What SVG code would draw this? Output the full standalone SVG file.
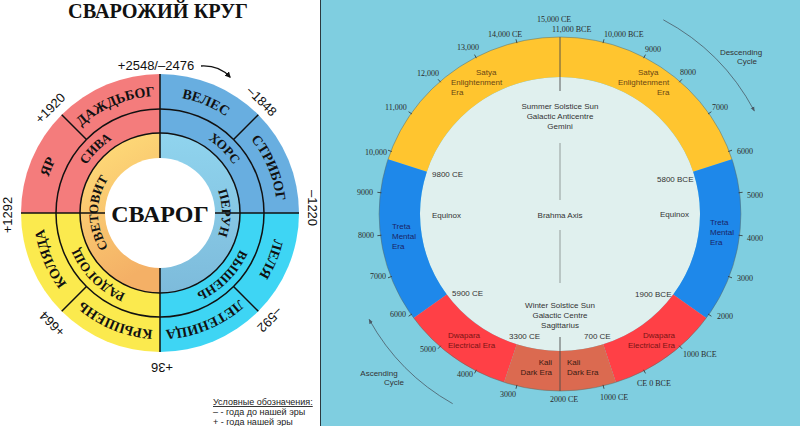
<svg xmlns="http://www.w3.org/2000/svg" width="800" height="426" viewBox="0 0 800 426">
<style>
.god{font-family:"Liberation Serif","DejaVu Serif",serif;font-weight:bold;fill:#111}
.num{font-family:"Liberation Sans",Arial,sans-serif;font-size:13px;fill:#111}
.leg{font-family:"Liberation Sans",Arial,sans-serif;font-size:9px;fill:#222}
.sl{font-family:"Liberation Serif","Times New Roman",serif;font-size:8px;fill:#2a2a2a}
.ss{font-family:"Liberation Sans",Arial,sans-serif;font-size:8px;fill:#333}
.line{stroke:#111;stroke-width:1.5;fill:none}
.tick{stroke:#333;stroke-width:0.8}
</style>
<defs>
<linearGradient id="gOr" x1="0" y1="0" x2="0.3" y2="1">
<stop offset="0" stop-color="#FFE07A"/><stop offset="1" stop-color="#F4B066"/>
</linearGradient>
<linearGradient id="gBl" x1="0" y1="0" x2="0" y2="1">
<stop offset="0" stop-color="#90D4EE"/><stop offset="1" stop-color="#7DBBDB"/>
</linearGradient>
<marker id="ah" viewBox="0 0 10 10" refX="8" refY="5" markerWidth="6" markerHeight="6" orient="auto" markerUnits="userSpaceOnUse">
<path d="M0,0 L10,5 L0,10 Z" fill="#111"/>
</marker>
<marker id="ah2" viewBox="0 0 10 10" refX="8" refY="5" markerWidth="5" markerHeight="5" orient="auto" markerUnits="userSpaceOnUse">
<path d="M0,1 L10,5 L0,9 Z" fill="#4a5a66"/>
</marker>
<path id="pVeles" d="M88.77,120.17 A117,117 0 0 1 276,197.73"/>
<path id="pStribog" d="M175.27,97 A117,117 0 0 1 252.83,284.23"/>
<path id="pLelya" d="M252.83,141.77 A117,117 0 0 1 175.27,329"/>
<path id="pLet" d="M276,228.27 A117,117 0 0 1 88.77,305.83"/>
<path id="pKrysh" d="M231.23,305.83 A117,117 0 0 1 44,228.27"/>
<path id="pKol" d="M144.73,329 A117,117 0 0 1 67.17,141.77"/>
<path id="pYar" d="M67.17,284.23 A117,117 0 0 1 144.73,97"/>
<path id="pDazh" d="M44,197.73 A117,117 0 0 1 231.23,120.17"/>
<path id="pHors" d="M137.23,128 A88,88 0 0 1 245,235.77"/>
<path id="pVysh" d="M245,190.23 A88,88 0 0 1 137.23,298"/>
<path id="pRad" d="M182.77,298 A88,88 0 0 1 75,190.23"/>
<path id="pSiva" d="M75,235.77 A88,88 0 0 1 182.77,128"/>
<path id="pPerun" d="M160,151 A62,62 0 0 1 160,275"/>
<path id="pSvet" d="M160,275 A62,62 0 0 1 160,151"/>
</defs>

<rect x="0" y="0" width="800" height="426" fill="#ffffff"/>

<g id="left-panel">
<text id="title" x="158" y="18" text-anchor="middle" class="god" font-size="20" textLength="180" lengthAdjust="spacingAndGlyphs">СВАРОЖИЙ КРУГ</text>

<g id="svarog-circle">
<path d="M160,213 L21,213 A139,139 0 0 1 160,74 Z" fill="#F47C7C"/>
<path d="M160,213 L160,74 A139,139 0 0 1 299,213 Z" fill="#68AEE0"/>
<path d="M160,213 L299,213 A139,139 0 0 1 160,352 Z" fill="#3ED5F4"/>
<path d="M160,213 L160,352 A139,139 0 0 1 21,213 Z" fill="#FBEA4E"/>
<path d="M160,133 A80,80 0 0 0 160,293 Z" fill="url(#gOr)"/>
<path d="M160,133 A80,80 0 0 1 160,293 Z" fill="url(#gBl)"/>
<circle cx="160" cy="213" r="55" fill="#ffffff"/>
<circle cx="160" cy="213" r="104" class="line"/>
<circle cx="160" cy="213" r="80" class="line"/>
<line x1="160" y1="74" x2="160" y2="158" class="line"/>
<line x1="160" y1="268" x2="160" y2="352" class="line"/>
<line x1="21" y1="213" x2="105" y2="213" class="line"/>
<line x1="215" y1="213" x2="299" y2="213" class="line"/>
<line x1="233.54" y1="139.46" x2="258.29" y2="114.71" class="line"/>
<line x1="233.54" y1="286.54" x2="258.29" y2="311.29" class="line"/>
<line x1="86.46" y1="286.54" x2="61.71" y2="311.29" class="line"/>
<line x1="86.46" y1="139.46" x2="61.71" y2="114.71" class="line"/>
</g>

<g id="outer-ring-labels" class="god" font-size="14">
<text><textPath href="#pVeles" startOffset="50%" text-anchor="middle">ВЕЛЕС</textPath></text>
<text><textPath href="#pStribog" startOffset="50%" text-anchor="middle">СТРИБОГ</textPath></text>
<text><textPath href="#pLelya" startOffset="50%" text-anchor="middle">ЛЕЛЯ</textPath></text>
<text><textPath href="#pLet" startOffset="50%" text-anchor="middle">ЛЕТЕНИЦА</textPath></text>
<text><textPath href="#pKrysh" startOffset="50%" text-anchor="middle">КРЫШЕНЬ</textPath></text>
<text><textPath href="#pKol" startOffset="50%" text-anchor="middle">КОЛЯДА</textPath></text>
<text><textPath href="#pYar" startOffset="50%" text-anchor="middle">ЯР</textPath></text>
<text><textPath href="#pDazh" startOffset="50%" text-anchor="middle">ДАЖДЬБОГ</textPath></text>
</g>
<g id="middle-ring-labels" class="god" font-size="13">
<text><textPath href="#pHors" startOffset="50%" text-anchor="middle">ХОРС</textPath></text>
<text><textPath href="#pVysh" startOffset="50%" text-anchor="middle">ВЫШЕНЬ</textPath></text>
<text><textPath href="#pRad" startOffset="50%" text-anchor="middle">РАДОГОЩ</textPath></text>
<text><textPath href="#pSiva" startOffset="50%" text-anchor="middle">СИВА</textPath></text>
</g>
<g id="inner-ring-labels" class="god" font-size="13">
<text><textPath href="#pPerun" startOffset="50%" text-anchor="middle">ПЕРУН</textPath></text>
<text><textPath href="#pSvet" startOffset="50%" text-anchor="middle">СВЕТОВИТ</textPath></text>
</g>
<g id="center-svarog">
<text x="160" y="222" text-anchor="middle" class="god" font-size="24">СВАРОГ</text>
</g>

<g id="year-labels" class="num" text-anchor="middle">
<text transform="translate(156,65)" dy="0.36em">+2548/–2476</text>
<text transform="translate(262,101) rotate(45)" dy="0.36em">–1848</text>
<text transform="translate(313,208) rotate(90)" dy="0.36em">–1220</text>
<text transform="translate(270,320) rotate(135)" dy="0.36em">–592</text>
<text transform="translate(162,368) rotate(180)" dy="0.36em">+36</text>
<text transform="translate(52,324) rotate(225)" dy="0.36em">+664</text>
<text transform="translate(7,215) rotate(270)" dy="0.36em">+1292</text>
<text transform="translate(50,108) rotate(315)" dy="0.36em">+1920</text>
</g>
<path d="M201,66 Q219,65 230,77" fill="none" stroke="#111" stroke-width="1.3" marker-end="url(#ah)"/>

<g id="legend" class="leg">
<text x="213" y="405" text-decoration="underline">Условные обозначения:</text>
<text x="213" y="415">– - года до нашей эры</text>
<text x="213" y="425">+ - года нашей эры</text>
</g>
</g>

<g id="right-panel">
<rect x="320" y="0" width="480" height="426" fill="#7FCEE0"/>
<line x1="320.5" y1="0" x2="320.5" y2="426" stroke="#2c3a40" stroke-width="1"/>

<g id="yuga-circle" transform="translate(560,214) scale(1.022,1)">
<circle r="137" fill="#E0F0EE"/>
<path d="M-168.3,-54.7 A177,177 0 0 1 168.3,-54.7 L130.3,-42.3 A137,137 0 0 0 -130.3,-42.3 Z" fill="#FFC52F"/>
<path d="M168.3,-54.7 A177,177 0 0 1 143.2,104 L110.8,80.5 A137,137 0 0 0 130.3,-42.3 Z" fill="#1E88EA"/>
<path d="M-168.3,-54.7 A177,177 0 0 0 -143.2,104 L-110.8,80.5 A137,137 0 0 1 -130.3,-42.3 Z" fill="#1E88EA"/>
<path d="M143.2,104 A177,177 0 0 1 54.7,168.3 L42.3,130.3 A137,137 0 0 0 110.8,80.5 Z" fill="#FF4046"/>
<path d="M-143.2,104 A177,177 0 0 0 -54.7,168.3 L-42.3,130.3 A137,137 0 0 1 -110.8,80.5 Z" fill="#FF4046"/>
<path d="M54.7,168.3 A177,177 0 0 1 0,177 L0,137 A137,137 0 0 0 42.3,130.3 Z" fill="#DB6A50"/>
<path d="M-54.7,168.3 A177,177 0 0 0 0,177 L0,137 A137,137 0 0 1 -42.3,130.3 Z" fill="#DB6A50"/>
<circle r="177" fill="none" stroke="#5a6a60" stroke-width="0.5"/>
<g id="ticks" class="tick">
<line x1="42.12" y1="-170.88" x2="43.07" y2="-174.76"/><line x1="-42.12" y1="-170.88" x2="-43.07" y2="-174.76"/>
<line x1="81.79" y1="-155.85" x2="83.65" y2="-159.39"/><line x1="-81.79" y1="-155.85" x2="-83.65" y2="-159.39"/>
<line x1="116.71" y1="-131.74" x2="119.36" y2="-134.73"/><line x1="-116.71" y1="-131.74" x2="-119.36" y2="-134.73"/>
<line x1="144.85" y1="-99.99" x2="148.14" y2="-102.26"/><line x1="-144.85" y1="-99.99" x2="-148.14" y2="-102.26"/>
<line x1="164.56" y1="-62.41" x2="168.3" y2="-63.83"/><line x1="-164.56" y1="-62.41" x2="-168.3" y2="-63.83"/>
<line x1="174.72" y1="-21.21" x2="178.69" y2="-21.69"/><line x1="-174.72" y1="-21.21" x2="-178.69" y2="-21.69"/>
<line x1="174.72" y1="21.21" x2="178.69" y2="21.69"/><line x1="-174.72" y1="21.21" x2="-178.69" y2="21.69"/>
<line x1="164.56" y1="62.41" x2="168.3" y2="63.83"/><line x1="-164.56" y1="62.41" x2="-168.3" y2="63.83"/>
<line x1="144.85" y1="99.99" x2="148.14" y2="102.26"/><line x1="-144.85" y1="99.99" x2="-148.14" y2="102.26"/>
<line x1="116.71" y1="131.74" x2="119.36" y2="134.73"/><line x1="-116.71" y1="131.74" x2="-119.36" y2="134.73"/>
<line x1="81.79" y1="155.85" x2="83.65" y2="159.39"/><line x1="-81.79" y1="155.85" x2="-83.65" y2="159.39"/>
<line x1="42.12" y1="170.88" x2="43.07" y2="174.76"/><line x1="-42.12" y1="170.88" x2="-43.07" y2="174.76"/>
</g>
</g>

<g id="axis-lines">
<line x1="560" y1="37" x2="560" y2="91" stroke="#4a4a4a" stroke-width="0.9"/>
<line x1="560" y1="143" x2="560" y2="200" stroke="#8a9290" stroke-width="0.9"/>
<line x1="560" y1="230" x2="560" y2="283" stroke="#8a9290" stroke-width="0.9"/>
<line x1="560" y1="337" x2="560" y2="391" stroke="#4a4a4a" stroke-width="0.9"/>
</g>

<g id="cycle-arrows" fill="none" stroke="#4a5a66" stroke-width="0.8">
<path d="M663.3,19.8 A220,220 0 0 1 754.2,110.7" marker-end="url(#ah2)"/>
<path d="M452.7,403.7 A218,218 0 0 1 369.3,319.7" marker-end="url(#ah2)"/>
</g>
<g id="cycle-labels" class="ss" text-anchor="middle" fill="#2a3a44">
<text x="741" y="55">Descending</text>
<text x="747" y="64">Cycle</text>
<text x="379" y="376">Ascending</text>
<text x="394" y="385">Cycle</text>
</g>

<g id="year-scale" class="sl">
<text x="537" y="22">15,000 CE</text>
<text x="552" y="32">11,000 BCE</text>
<text x="488" y="37">14,000 CE</text>
<text x="604" y="37">10,000 BCE</text>
<text x="457" y="50">13,000</text>
<text x="645" y="52">9000</text>
<text x="417" y="76">12,000</text>
<text x="680" y="75">8000</text>
<text x="385" y="110">11,000</text>
<text x="712" y="110">7000</text>
<text x="365" y="155">10,000</text>
<text x="737" y="154">6000</text>
<text x="357" y="195">9000</text>
<text x="747" y="198">5000</text>
<text x="358" y="238">8000</text>
<text x="747" y="241">4000</text>
<text x="370" y="279">7000</text>
<text x="737" y="281">3000</text>
<text x="390" y="317">6000</text>
<text x="717" y="319">2000</text>
<text x="420" y="352">5000</text>
<text x="683" y="357">1000 BCE</text>
<text x="457" y="377">4000</text>
<text x="637" y="386">CE 0 BCE</text>
<text x="500" y="397">3000</text>
<text x="600" y="400">1000 CE</text>
<text x="550" y="402">2000 CE</text>
</g>

<g id="satya-labels" class="ss" fill="#6a4514" style="fill:#6a4514">
<text x="476" y="75">Satya</text>
<text x="451" y="85">Enlightenment</text>
<text x="451" y="95">Era</text>
<text x="638" y="75">Satya</text>
<text x="618" y="85">Enlightenment</text>
<text x="657" y="95">Era</text>
</g>
<g id="treta-labels" class="ss" style="fill:#1a2466">
<text x="392" y="229">Treta</text>
<text x="392" y="239">Mental</text>
<text x="392" y="249">Era</text>
<text x="710" y="225">Treta</text>
<text x="710" y="235">Mental</text>
<text x="710" y="245">Era</text>
</g>
<g id="dwapara-labels" class="ss" style="fill:#7a1414">
<text x="448" y="338">Dwapara</text>
<text x="448" y="347.5">Electrical Era</text>
<text x="675" y="338" text-anchor="end">Dwapara</text>
<text x="675" y="347.5" text-anchor="end">Electrical Era</text>
</g>
<g id="kali-labels" class="ss" style="fill:#3a1a12">
<text x="552" y="365" text-anchor="end">Kali</text>
<text x="552" y="375" text-anchor="end">Dark Era</text>
<text x="567" y="365">Kali</text>
<text x="567" y="375">Dark Era</text>
</g>
<g id="inner-labels" class="ss">
<text x="560" y="109" text-anchor="middle">Summer Solstice Sun</text>
<text x="560" y="119" text-anchor="middle">Galactic Anticentre</text>
<text x="560" y="129" text-anchor="middle">Gemini</text>
<text x="432" y="177">9800 CE</text>
<text x="657" y="182">5800 BCE</text>
<text x="432" y="218">Equinox</text>
<text x="660" y="217">Equinox</text>
<text x="560" y="218" text-anchor="middle">Brahma Axis</text>
<text x="452" y="295.5">5900 CE</text>
<text x="635" y="297">1900 BCE</text>
<text x="560" y="307.5" text-anchor="middle">Winter Solstice Sun</text>
<text x="560" y="317.5" text-anchor="middle">Galactic Centre</text>
<text x="560" y="328" text-anchor="middle">Sagittarius</text>
<text x="509" y="339">3300 CE</text>
<text x="584" y="339">700 CE</text>
</g>
</g>
</svg>
